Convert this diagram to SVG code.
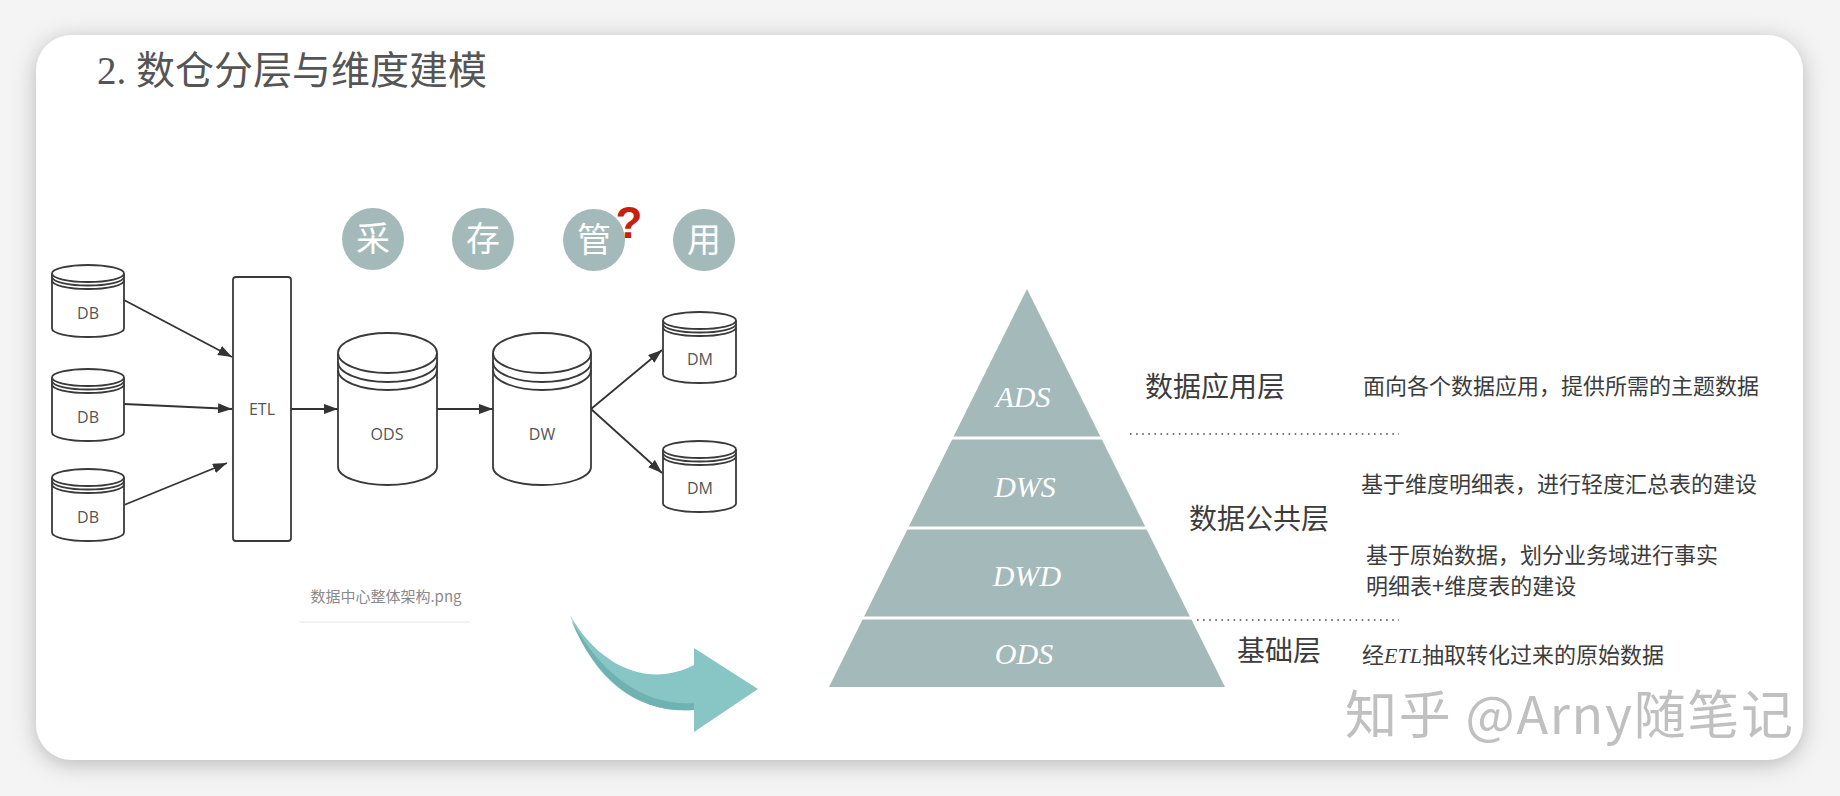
<svg xmlns="http://www.w3.org/2000/svg" width="1840" height="796" viewBox="0 0 1840 796">
<defs>
<filter id="sh" x="-5%" y="-10%" width="110%" height="120%">
<feDropShadow dx="0" dy="4" stdDeviation="11" flood-color="#000" flood-opacity="0.25"/>
</filter>
<marker id="ah" viewBox="0 0 14 10" refX="14" refY="5" markerWidth="14" markerHeight="10" markerUnits="userSpaceOnUse" orient="auto">
<path d="M0,0 L14,5 L0,10 Z" fill="#333"/>
</marker>
<style>
.cyl{fill:#fff;stroke:#3a3a3a;stroke-width:1.8}
.ln{fill:none;stroke:#3a3a3a;stroke-width:1.8}
.lbl{font-family:"Open Sans","Noto Sans",sans-serif;font-size:16px;fill:#555;text-anchor:middle}
.circ{fill:#a4b9b9}
.ct{font-family:"Noto Sans CJK SC",sans-serif;font-size:34px;fill:#fff;text-anchor:middle}
.con{fill:none;stroke:#333;stroke-width:1.8;marker-end:url(#ah)}
.pl{font-family:"Liberation Serif","DejaVu Serif",serif;font-style:italic;font-size:30px;fill:#fff;text-anchor:middle}
.cn{font-family:"Noto Sans CJK SC",sans-serif;font-size:28px;fill:#3c3c3c}
.ds{font-family:"Noto Sans CJK SC",sans-serif;font-size:22px;fill:#3c3c3c}
.dot{stroke:#777;stroke-width:2.2;stroke-dasharray:1.6 4.5;fill:none}
</style>
</defs>
<rect width="1840" height="796" fill="#f4f4f4"/>
<rect x="36" y="35" width="1767" height="725" rx="36" fill="#fff" filter="url(#sh)"/>
<text x="97" y="84" font-family="Liberation Serif,'Noto Sans CJK SC',serif" font-size="39" fill="#555">2. <tspan font-family="Noto Sans CJK SC,sans-serif">数仓分层与维度建模</tspan></text>

<g id="stages">
<circle class="circ" cx="373" cy="239" r="31"/><text class="ct" x="373" y="251">采</text>
<circle class="circ" cx="483" cy="239" r="31"/><text class="ct" x="483" y="251">存</text>
<circle class="circ" cx="594" cy="240" r="31"/><text class="ct" x="594" y="252">管</text>
<circle class="circ" cx="704" cy="240" r="31"/><text class="ct" x="704" y="252">用</text>
<text x="629" y="238" font-family="Liberation Sans,sans-serif" font-weight="bold" font-size="44" fill="#c8200e" text-anchor="middle">?</text>
</g>

<g id="connectors">
<line class="con" x1="124" y1="300" x2="232" y2="357"/>
<line class="con" x1="124" y1="404" x2="232" y2="409"/>
<line class="con" x1="124" y1="505" x2="227" y2="463"/>
<line class="con" x1="291" y1="409" x2="338" y2="409"/>
<line class="con" x1="437" y1="409" x2="493" y2="409"/>
<line class="con" x1="591" y1="409" x2="662" y2="350"/>
<line class="con" x1="591" y1="409" x2="662" y2="473"/>
</g>

<g id="db1">
<path class="cyl" d="M52,273.5 V328.5 A36,8.5 0 0 0 124,328.5 V273.5"/>
<ellipse class="cyl" cx="88" cy="273.5" rx="36" ry="8.5"/>
<path class="ln" d="M52,277 A36,8.5 0 0 0 124,277 M52,280.5 A36,8.5 0 0 0 124,280.5"/>
<text class="lbl" x="88" y="319">DB</text>
</g>
<g id="db2">
<path class="cyl" d="M52,377.5 V432.5 A36,8.5 0 0 0 124,432.5 V377.5"/>
<ellipse class="cyl" cx="88" cy="377.5" rx="36" ry="8.5"/>
<path class="ln" d="M52,381 A36,8.5 0 0 0 124,381 M52,384.5 A36,8.5 0 0 0 124,384.5"/>
<text class="lbl" x="88" y="423">DB</text>
</g>
<g id="db3">
<path class="cyl" d="M52,477.5 V532.5 A36,8.5 0 0 0 124,532.5 V477.5"/>
<ellipse class="cyl" cx="88" cy="477.5" rx="36" ry="8.5"/>
<path class="ln" d="M52,481 A36,8.5 0 0 0 124,481 M52,484.5 A36,8.5 0 0 0 124,484.5"/>
<text class="lbl" x="88" y="523">DB</text>
</g>
<g id="etl">
<rect class="cyl" x="233" y="277" width="58" height="264" rx="3"/>
<text class="lbl" x="262" y="415" font-size="15">ETL</text>
</g>
<g id="ods">
<path class="cyl" d="M338,353 V467 A49.5,18 0 0 0 437,467 V353"/>
<ellipse class="cyl" cx="387.5" cy="353" rx="49.5" ry="20"/>
<path class="ln" d="M338,362 A49.5,20 0 0 0 437,362 M338,370 A49.5,20 0 0 0 437,370"/>
<text class="lbl" x="387" y="440" font-size="17">ODS</text>
</g>
<g id="dw">
<path class="cyl" d="M493,353 V467 A49,18 0 0 0 591,467 V353"/>
<ellipse class="cyl" cx="542" cy="353" rx="49" ry="20"/>
<path class="ln" d="M493,362 A49,20 0 0 0 591,362 M493,370 A49,20 0 0 0 591,370"/>
<text class="lbl" x="542" y="440" font-size="17">DW</text>
</g>
<g id="dm1">
<path class="cyl" d="M663,320.5 V374.5 A36.5,8.5 0 0 0 736,374.5 V320.5"/>
<ellipse class="cyl" cx="699.5" cy="320.5" rx="36.5" ry="8.5"/>
<path class="ln" d="M663,324 A36.5,8.5 0 0 0 736,324 M663,327.5 A36.5,8.5 0 0 0 736,327.5"/>
<text class="lbl" x="700" y="365">DM</text>
</g>
<g id="dm2">
<path class="cyl" d="M663,449.5 V503.5 A36.5,8.5 0 0 0 736,503.5 V449.5"/>
<ellipse class="cyl" cx="699.5" cy="449.5" rx="36.5" ry="8.5"/>
<path class="ln" d="M663,453 A36.5,8.5 0 0 0 736,453 M663,456.5 A36.5,8.5 0 0 0 736,456.5"/>
<text class="lbl" x="700" y="494">DM</text>
</g>
<g id="caption">
<text x="386" y="602" font-family="Noto Sans CJK SC,sans-serif" font-size="15" fill="#8a8a8a" text-anchor="middle">数据中心整体架构.png</text>
<line x1="299" y1="622" x2="470" y2="622" stroke="#eeeeee" stroke-width="1.5"/>
</g>

<g id="bigarrow">
<path d="M570,615 C600,668 650,688 694,665 L694,648 L758,689 L694,732 L694,710 C640,714 595,684 570,615 Z" fill="#88c6c6"/>
<path d="M571,620 C598,684 642,714 694,710 L694,703 C650,706 606,682 571,620 Z" fill="#70b2b2"/>
</g>

<g id="pyramid">
<polygon points="1027,289 1225,687 829,687" fill="#a4b9b9"/>
<g stroke="#fff" stroke-width="3">
<line x1="945" y1="438" x2="1110" y2="438"/>
<line x1="900" y1="528" x2="1155" y2="528"/>
<line x1="855" y1="618" x2="1200" y2="618"/>
</g>
<text class="pl" x="1023" y="407">ADS</text>
<text class="pl" x="1025" y="497">DWS</text>
<text class="pl" x="1027" y="586">DWD</text>
<text class="pl" x="1024" y="664">ODS</text>
</g>

<g id="labels">
<line class="dot" x1="1130" y1="434" x2="1399" y2="434"/>
<line class="dot" x1="1197" y1="620" x2="1399" y2="620"/>
<text class="cn" x="1145" y="397">数据应用层</text>
<text class="cn" x="1189" y="529">数据公共层</text>
<text class="cn" x="1237" y="661">基础层</text>
<text class="ds" x="1363" y="394">面向各个数据应用，提供所需的主题数据</text>
<text class="ds" x="1361" y="492">基于维度明细表，进行轻度汇总表的建设</text>
<text class="ds" x="1366" y="563">基于原始数据，划分业务域进行事实</text>
<text class="ds" x="1366" y="594">明细表+维度表的建设</text>
<text class="ds" x="1362" y="663">经<tspan font-family="Liberation Serif,serif" font-style="italic">ETL</tspan>抽取转化过来的原始数据</text>
</g>

<text x="1345" y="734" font-family="Noto Sans CJK SC,sans-serif" font-size="52" fill="#c0c0c0" textLength="448">知乎 @Arny随笔记</text>
</svg>
